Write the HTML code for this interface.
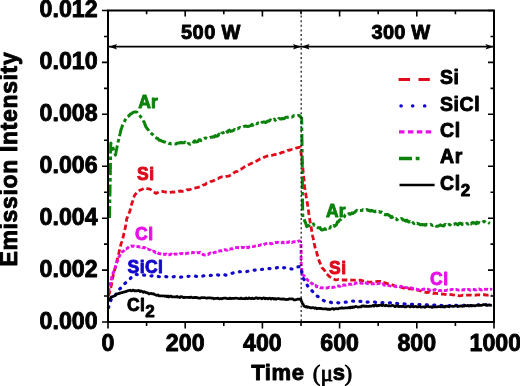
<!DOCTYPE html>
<html><head><meta charset="utf-8"><style>
html,body{margin:0;padding:0;background:#fff;}
svg{display:block;}
</style></head><body>
<svg width="520" height="386" viewBox="0 0 520 386">
<rect width="520" height="386" fill="#fff"/>
<path d="M108.5,296.0 L109.1,293.8 L109.8,291.5 L110.4,289.2 L111.0,286.8 L111.4,285.0 L111.8,282.9 L112.2,281.1 L112.5,279.1 L112.9,276.7 L113.3,274.6 L113.8,273.3 L114.4,270.8 L114.9,268.8 L115.5,267.4 L116.0,265.0 L116.5,263.0 L117.0,260.5 L117.5,258.4 L118.0,255.7 L118.5,254.1 L119.0,252.3 L119.5,250.0 L120.0,248.2 L120.5,246.1 L121.2,243.3 L122.0,241.5 L122.7,239.1 L123.2,236.6 L123.8,234.1 L124.3,232.5 L124.8,230.0 L125.2,228.0 L125.6,225.9 L125.9,223.6 L126.3,221.5 L126.7,218.9 L127.5,217.1 L128.3,214.7 L129.2,212.9 L130.0,210.7 L130.6,207.7 L131.3,205.4 L131.9,203.1 L132.6,201.7 L133.2,199.3 L133.8,197.6 L134.5,195.3 L135.8,193.8 L137.0,191.9 L139.7,190.3 L142.3,189.2 L144.9,187.9 L147.4,188.7 L150.0,189.1 L152.0,190.7 L153.9,192.0 L155.9,193.4 L157.8,192.5 L159.8,191.4 L161.7,191.3 L163.7,191.7 L165.8,192.0 L167.8,192.1 L169.8,192.6 L172.0,192.0 L174.1,192.2 L176.2,191.8 L178.4,191.4 L180.5,191.0 L182.7,191.4 L184.9,191.0 L187.0,189.7 L189.2,189.8 L191.4,189.0 L193.5,188.2 L195.7,187.8 L198.0,187.4 L200.3,186.6 L202.7,185.1 L205.0,184.7 L206.8,183.2 L208.5,182.8 L210.4,181.6 L212.3,181.2 L214.2,180.4 L216.2,179.2 L218.1,178.7 L220.0,177.3 L222.1,176.9 L224.2,177.0 L226.4,176.3 L228.5,176.2 L230.3,175.3 L232.1,174.3 L233.8,172.9 L235.6,171.7 L237.4,171.3 L239.1,169.8 L240.9,169.2 L242.7,168.1 L244.5,166.8 L246.3,165.9 L248.1,165.0 L249.8,164.2 L251.6,163.3 L253.4,162.3 L255.2,161.4 L257.0,160.8 L258.9,159.6 L260.8,158.7 L262.7,158.2 L264.6,157.0 L266.5,156.2 L268.4,156.0 L270.5,155.4 L272.7,155.2 L274.9,154.5 L277.0,154.6 L279.1,153.9 L281.2,152.6 L283.4,152.2 L285.5,151.4 L287.8,150.3 L290.1,150.0 L292.3,149.2 L294.6,148.7 L296.9,147.8 L300.3,147.2 L300.5,149.2 L300.8,150.6 L301.0,152.6 L301.3,155.1 L301.5,157.4 L301.8,158.8 L302.0,161.0 L302.3,163.1 L302.5,164.9 L302.7,167.0 L302.9,169.1 L303.1,171.2 L303.3,173.5 L303.5,175.4 L303.8,177.6 L304.0,180.0 L304.2,181.6 L304.4,184.1 L304.6,186.4 L304.8,188.1 L305.1,190.2 L305.5,192.7 L305.8,194.3 L306.2,196.4 L306.5,198.6 L306.9,200.9 L307.2,202.5 L307.6,204.8 L307.9,206.9 L308.2,209.5 L308.6,211.4 L308.9,214.0 L309.2,215.6 L309.5,218.0 L309.9,220.5 L310.2,222.9 L310.6,224.6 L311.0,226.5 L311.4,228.5 L311.7,230.9 L312.1,232.7 L312.5,235.2 L312.9,237.3 L313.3,238.7 L313.8,240.8 L314.2,243.2 L314.6,245.1 L315.0,247.2 L315.6,248.9 L316.2,250.8 L316.8,252.9 L317.4,255.3 L318.0,257.0 L318.6,259.0 L319.2,261.1 L320.1,263.2 L321.1,265.3 L322.0,267.7 L323.3,268.9 L324.7,270.6 L326.0,273.2 L327.5,274.6 L329.1,276.3 L330.6,277.3 L333.3,278.9 L336.0,280.0 L338.2,279.5 L340.5,279.9 L342.8,280.0 L345.0,279.8 L347.5,280.0 L350.0,280.0 L352.1,280.1 L354.2,280.1 L356.3,280.0 L358.4,280.4 L360.5,280.2 L362.9,281.0 L365.2,280.8 L367.6,281.9 L370.0,282.2 L372.0,282.1 L374.0,281.9 L376.0,281.7 L378.0,281.3 L380.0,281.3 L382.0,282.4 L384.0,282.5 L386.0,283.1 L388.0,283.9 L390.0,284.3 L392.1,284.8 L394.3,285.8 L396.4,286.1 L398.6,286.4 L400.7,286.9 L402.9,287.9 L405.0,288.2 L407.1,288.8 L409.3,288.7 L411.4,288.9 L413.6,289.5 L415.7,290.1 L417.9,289.9 L420.0,290.7 L422.5,291.6 L425.0,292.2 L427.0,292.6 L429.0,292.2 L431.0,293.0 L433.0,293.5 L435.0,293.1 L437.0,293.5 L439.0,293.6 L441.0,294.0 L443.0,294.1 L445.0,294.3 L447.0,294.7 L449.0,294.3 L451.0,294.6 L453.0,294.9 L455.0,295.1 L457.0,295.1 L459.0,295.8 L461.0,295.7 L463.0,295.1 L465.0,295.4 L467.1,295.2 L469.3,295.1 L471.4,295.1 L473.6,295.3 L475.7,295.2 L477.9,294.9 L480.0,294.8 L482.0,294.9 L484.0,294.7 L486.0,295.0 L488.0,295.2 L490.0,294.9 L492.0,295.0" fill="none" stroke="#e00a1a" stroke-width="2.8" stroke-dasharray="5.5 3" stroke-linejoin="round"/>
<path d="M108.5,292.0 L108.8,290.8 L109.0,289.5 L109.3,288.3 L109.6,287.1 L109.8,285.8 L110.1,284.6 L110.4,283.4 L110.7,282.2 L110.9,280.9 L111.2,279.7 L111.5,278.5 L111.7,277.2 L112.0,275.5 L112.4,274.5 L112.9,273.6 L113.3,272.7 L113.7,271.8 L114.1,270.1 L114.6,269.5 L115.0,268.1 L115.4,266.6 L115.9,265.3 L116.3,264.1 L116.7,263.1 L117.1,261.5 L117.6,260.5 L118.0,259.0 L118.6,257.5 L119.2,256.6 L119.8,255.6 L120.4,253.7 L121.0,252.9 L122.0,251.9 L123.0,251.5 L124.0,250.5 L125.0,248.8 L126.3,248.8 L127.7,248.0 L129.0,246.7 L130.2,246.7 L131.5,245.9 L132.8,246.5 L134.0,246.0 L135.2,246.4 L136.5,246.5 L137.8,246.5 L139.0,246.8 L140.2,247.0 L141.4,246.8 L142.7,247.7 L143.9,247.4 L145.2,248.1 L146.4,249.3 L147.7,249.0 L149.0,249.5 L150.3,250.0 L151.6,251.5 L152.9,251.1 L154.2,251.4 L155.6,252.8 L157.1,252.3 L158.6,253.5 L160.0,253.7 L161.2,254.1 L162.4,254.4 L163.6,254.1 L164.8,254.6 L166.0,253.9 L167.2,254.9 L168.5,254.6 L169.8,254.8 L171.1,254.0 L172.4,254.8 L173.7,255.0 L175.0,253.9 L176.3,254.1 L177.6,254.3 L178.8,254.5 L180.1,253.7 L181.4,253.5 L182.7,253.5 L184.0,253.8 L185.3,253.9 L186.6,253.3 L187.9,253.2 L189.2,253.1 L190.5,253.0 L191.8,252.9 L193.1,252.4 L194.4,252.8 L195.7,253.3 L197.1,252.6 L198.6,252.9 L200.0,252.2 L201.2,253.4 L202.3,254.1 L203.5,254.6 L204.7,255.0 L205.9,254.7 L207.0,254.6 L208.2,254.6 L209.3,253.4 L210.5,253.0 L211.7,253.5 L212.8,253.4 L214.0,252.6 L215.3,252.2 L216.7,252.2 L218.0,251.2 L219.3,251.0 L220.6,250.6 L222.0,250.7 L223.3,250.1 L224.6,249.7 L225.9,250.0 L227.2,250.1 L228.5,249.0 L229.8,249.3 L231.1,248.7 L232.4,248.9 L233.7,248.4 L235.0,247.7 L236.3,247.6 L237.6,247.3 L238.9,247.8 L240.2,247.6 L241.4,247.3 L242.7,247.5 L244.0,247.4 L245.3,247.9 L246.6,247.1 L247.9,247.8 L249.2,247.0 L250.5,246.9 L251.8,246.4 L253.1,246.6 L254.4,246.4 L255.7,245.8 L257.0,245.4 L258.3,245.5 L259.6,245.4 L260.9,244.7 L262.2,244.8 L263.5,244.9 L264.8,244.1 L266.1,243.6 L267.4,243.4 L268.7,243.8 L270.0,243.5 L271.3,243.8 L272.6,243.5 L273.9,242.7 L275.2,242.5 L276.4,242.5 L277.7,242.3 L279.0,242.8 L280.3,242.9 L281.6,242.9 L282.9,242.1 L284.2,242.8 L285.5,242.1 L286.8,242.2 L288.0,242.5 L289.3,241.7 L290.6,241.7 L291.9,242.5 L293.2,241.9 L294.6,241.8 L296.0,241.9 L297.4,241.9 L298.8,240.9 L300.2,241.2 L300.6,242.6 L301.0,244.0 L301.0,244.9 L301.0,246.6 L301.0,248.3 L301.1,248.9 L301.1,250.3 L301.1,251.0 L301.1,252.5 L301.1,254.2 L301.1,254.8 L301.1,257.0 L301.1,258.2 L301.1,258.5 L301.2,260.8 L301.2,261.3 L301.2,263.1 L301.2,264.3 L301.3,265.0 L301.4,266.8 L301.6,268.0 L301.7,269.5 L301.8,270.2 L301.9,272.0 L302.1,273.6 L302.2,274.5 L303.1,275.2 L303.9,275.6 L304.8,276.9 L305.7,277.7 L306.6,279.0 L307.4,279.8 L308.3,280.6 L309.2,280.9 L310.2,282.3 L311.1,283.1 L312.1,283.3 L313.0,285.0 L314.2,285.3 L315.4,285.2 L316.6,286.8 L317.8,286.4 L319.0,287.2 L320.3,287.8 L321.6,287.8 L322.9,287.9 L324.2,288.1 L325.5,288.0 L326.8,288.0 L328.1,287.6 L329.4,287.2 L330.7,287.8 L332.1,287.6 L333.4,287.1 L334.7,287.1 L336.0,286.4 L337.3,286.1 L338.6,286.0 L339.9,286.4 L341.3,285.1 L342.6,285.5 L343.9,284.9 L345.2,285.3 L346.5,284.6 L347.9,284.4 L349.2,284.2 L350.5,284.2 L351.8,284.3 L353.2,283.5 L354.5,283.9 L355.8,282.9 L357.1,283.0 L358.4,282.7 L359.8,282.6 L361.1,283.3 L362.4,283.2 L363.7,282.4 L365.0,282.6 L366.3,283.0 L367.6,283.6 L369.0,283.9 L370.3,284.0 L371.6,283.9 L372.9,283.6 L374.2,283.8 L375.4,283.4 L376.7,283.7 L378.0,283.6 L379.2,283.4 L380.4,283.7 L381.6,284.5 L382.8,283.9 L384.0,285.0 L385.2,285.3 L386.4,285.6 L387.6,285.2 L388.8,285.6 L390.0,285.9 L391.2,286.1 L392.5,286.6 L393.8,286.3 L395.0,286.0 L396.2,286.7 L397.5,286.4 L398.8,286.6 L400.0,286.9 L401.2,286.2 L402.5,287.3 L403.8,287.4 L405.0,287.4 L406.2,287.6 L407.5,287.8 L408.8,287.6 L410.0,288.2 L411.2,287.8 L412.5,288.5 L413.8,288.8 L415.0,288.7 L416.2,289.0 L417.5,289.7 L418.8,289.7 L420.0,289.0 L421.2,289.8 L422.5,289.6 L423.8,289.0 L425.0,289.4 L426.2,289.3 L427.5,289.1 L428.8,289.7 L430.0,290.2 L431.2,289.6 L432.5,290.3 L433.8,290.1 L435.0,289.5 L436.2,290.4 L437.5,290.2 L438.8,290.6 L440.0,290.5 L441.2,290.5 L442.5,290.0 L443.8,290.5 L445.0,290.6 L446.2,290.5 L447.5,290.0 L448.8,290.3 L450.0,290.0 L451.2,289.5 L452.5,289.4 L453.8,289.4 L455.0,289.5 L456.2,289.5 L457.5,289.8 L458.8,290.1 L460.0,289.8 L461.2,289.7 L462.5,290.0 L463.8,289.5 L465.0,289.7 L466.2,290.0 L467.5,289.6 L468.8,289.3 L470.0,290.2 L471.2,290.0 L472.5,289.5 L473.8,289.5 L475.0,289.7 L476.2,289.8 L477.5,289.3 L478.8,289.0 L480.0,289.3 L481.2,290.0 L482.4,289.2 L483.6,289.6 L484.8,289.3 L486.0,289.4 L487.2,289.3 L488.4,289.6 L489.6,289.4 L490.8,289.2 L492.0,289.8" fill="none" stroke="#e810e8" stroke-width="2.9" stroke-dasharray="4 2" stroke-linejoin="round"/>
<path d="M108.5,307.7 L109.1,305.8 L109.8,303.9 L110.4,301.9 L111.0,299.7 L112.6,298.4 L114.2,297.4 L115.6,294.8 L117.0,292.6 L118.5,290.9 L119.9,288.8 L121.7,287.1 L123.5,284.6 L125.2,283.2 L127.0,281.4 L128.7,279.5 L130.3,278.5 L132.0,276.3 L135.0,274.4 L137.3,274.6 L139.6,274.3 L141.7,275.0 L143.9,275.1 L146.0,275.2 L148.4,275.3 L150.7,276.0 L153.1,275.8 L155.3,276.4 L157.6,276.3 L159.8,276.8 L162.0,276.4 L164.3,276.5 L166.5,276.7 L168.7,277.2 L170.9,277.0 L173.1,276.8 L175.3,276.6 L177.5,277.0 L179.7,277.3 L181.9,277.0 L183.9,276.4 L185.9,276.3 L187.9,276.3 L189.9,276.2 L192.0,276.0 L194.0,275.9 L196.0,276.3 L198.0,276.4 L200.0,275.8 L202.3,276.2 L204.7,275.6 L207.0,275.6 L209.4,275.5 L211.7,275.4 L213.7,274.6 L215.8,274.8 L217.8,275.0 L219.8,275.3 L221.9,274.5 L223.9,274.7 L226.0,275.1 L228.0,274.5 L230.3,273.9 L232.7,273.1 L235.0,272.5 L237.3,272.5 L239.6,271.7 L242.0,271.9 L244.3,271.7 L246.6,271.6 L248.9,271.0 L251.3,271.0 L253.6,270.2 L256.0,270.0 L258.3,269.5 L260.6,269.7 L263.0,269.2 L265.3,268.8 L267.7,268.5 L270.0,268.7 L272.3,268.3 L274.6,268.2 L277.0,267.7 L279.3,267.5 L281.6,267.0 L283.9,267.8 L286.2,267.6 L288.6,268.3 L290.9,268.9 L293.2,269.1 L295.5,267.7 L297.9,266.9 L300.2,266.5 L300.5,266.7 L301.0,269.1 L301.5,271.2 L301.9,273.0 L302.4,275.6 L302.9,277.6 L304.0,279.4 L305.2,281.5 L306.4,283.4 L307.5,285.7 L309.0,287.9 L310.6,288.9 L312.1,291.0 L313.7,292.3 L315.2,294.0 L317.1,296.0 L319.0,297.2 L321.0,298.6 L322.9,300.2 L325.0,301.2 L327.1,301.7 L329.3,301.8 L331.4,302.6 L333.7,303.2 L336.0,302.6 L338.3,302.8 L340.6,302.7 L342.6,302.7 L344.6,302.2 L346.6,302.1 L348.6,301.5 L350.6,301.0 L352.6,301.0 L354.6,301.1 L356.6,301.8 L358.6,301.3 L360.6,301.3 L363.0,302.1 L365.3,301.6 L367.6,302.2 L370.0,301.6 L372.0,302.0 L374.0,301.9 L376.0,302.4 L378.0,302.4 L380.0,302.5 L382.0,302.6 L384.0,302.8 L386.0,302.5 L388.0,302.8 L390.0,302.8 L392.0,302.6 L394.0,303.4 L396.0,303.3 L398.0,303.7 L400.0,303.3 L402.0,303.7 L404.0,303.8 L406.0,304.2 L408.0,303.8 L410.0,304.2 L412.0,304.4 L414.0,304.1 L416.0,304.6 L418.0,304.8 L420.0,304.6 L422.0,304.9 L424.0,304.9 L426.0,304.7 L428.0,304.9 L430.0,305.5 L432.0,305.0 L434.0,305.1 L436.0,304.9 L438.0,305.0 L440.0,305.0 L442.0,305.7 L444.0,305.6 L446.0,305.7 L448.0,305.8 L450.0,305.6 L452.0,305.8 L454.0,305.5 L456.0,305.4 L458.0,305.8 L460.0,305.7 L462.0,305.7 L464.0,305.3 L466.0,305.6 L468.0,305.2 L470.0,305.7 L472.0,305.6 L474.0,305.0 L476.0,305.5 L478.0,304.8 L480.0,304.7 L482.0,305.1 L484.0,304.7 L486.0,304.8 L488.0,304.8 L490.0,304.3 L492.0,304.6" fill="none" stroke="#1208cc" stroke-width="3.2" stroke-dasharray="1 6.5" stroke-linecap="round" stroke-linejoin="round"/>
<path d="M109.5,218.0 L109.5,217.0 L109.5,216.0 L109.6,215.0 L109.6,214.0 L109.6,213.0 L109.6,212.0 L109.6,211.0 L109.6,210.0 L109.7,209.0 L109.7,208.0 L109.7,207.0 L109.7,206.0 L109.7,205.0 L109.8,204.0 L109.8,203.0 L109.8,202.0 L109.8,201.0 L109.8,200.0 L109.8,199.0 L109.9,198.0 L109.9,197.0 L109.9,196.0 L109.9,195.0 L109.9,194.0 L109.9,193.0 L110.0,192.0 L110.0,191.0 L110.0,190.2 L110.0,188.8 L110.0,188.0 L110.0,186.9 L110.1,186.2 L110.1,185.2 L110.1,183.9 L110.1,182.7 L110.1,181.9 L110.2,180.9 L110.2,179.7 L110.2,178.8 L110.2,178.2 L110.2,177.1 L110.2,176.3 L110.2,175.3 L110.3,174.3 L110.3,172.9 L110.3,171.8 L110.3,170.9 L110.3,170.0 L110.3,169.0 L110.4,168.0 L110.4,166.9 L110.4,166.2 L110.4,164.8 L110.4,164.0 L110.5,163.3 L110.5,162.2 L110.5,160.9 L110.5,159.8 L110.5,159.2 L110.5,157.7 L110.6,156.7 L110.6,156.0 L110.6,155.0 L110.6,153.8 L110.6,152.7 L110.6,151.8 L110.7,151.2 L110.7,150.0 L110.7,149.3 L110.7,148.2 L110.7,147.3 L110.7,145.7 L110.8,144.8 L110.8,143.7 L110.8,143.0 L111.2,143.9 L111.7,144.7 L112.1,146.0 L112.6,146.7 L113.0,147.9 L113.3,148.8 L113.7,150.2 L114.0,150.9 L114.4,151.8 L114.7,152.7 L115.1,154.0 L115.4,155.1 L115.6,154.1 L115.8,153.3 L116.0,152.2 L116.2,150.8 L116.4,149.7 L116.6,149.2 L116.8,148.2 L117.0,147.0 L117.2,146.2 L117.4,145.0 L117.7,143.8 L117.9,142.8 L118.1,141.7 L118.3,141.1 L118.5,140.3 L118.8,139.3 L119.0,138.0 L119.2,137.1 L119.5,136.3 L119.7,135.2 L120.0,134.1 L120.2,132.9 L120.5,132.0 L120.7,130.8 L121.0,129.8 L121.2,129.1 L121.5,128.3 L121.9,127.1 L122.3,126.1 L122.7,125.1 L123.2,124.3 L123.6,123.6 L124.0,122.4 L124.4,121.8 L124.9,120.4 L125.4,119.6 L126.0,118.8 L126.5,117.8 L127.0,117.2 L127.9,116.6 L128.7,116.0 L129.6,115.1 L130.4,114.0 L131.3,113.8 L132.2,113.2 L133.0,112.5 L134.0,112.0 L135.1,112.0 L136.1,111.9 L136.9,112.1 L137.7,113.3 L138.4,113.8 L139.2,114.7 L140.0,115.8 L140.6,116.7 L141.1,117.3 L141.7,117.9 L142.2,119.2 L142.8,119.6 L143.3,120.6 L143.9,121.7 L144.3,122.5 L144.7,123.5 L145.2,125.1 L145.6,126.2 L146.0,126.9 L146.7,127.8 L147.3,128.7 L148.0,129.5 L148.7,130.5 L149.3,131.9 L150.0,132.2 L150.8,133.0 L151.7,133.7 L152.5,134.4 L153.3,135.4 L154.2,136.3 L155.0,137.0 L155.8,137.5 L156.7,138.3 L157.5,138.3 L158.3,139.1 L159.2,140.2 L160.0,140.2 L161.0,140.7 L162.0,141.2 L163.0,141.4 L164.0,142.0 L165.0,142.0 L166.0,142.4 L167.0,143.1 L168.0,142.8 L169.0,143.5 L170.0,143.3 L171.0,144.0 L172.0,143.9 L173.0,144.0 L174.0,143.8 L175.0,143.9 L176.0,144.0 L177.0,143.3 L178.0,143.0 L179.0,143.1 L180.0,142.8 L181.0,142.2 L182.0,142.9 L183.0,142.7 L184.0,142.7 L185.0,142.1 L186.0,143.0 L187.0,144.5 L188.0,143.6 L189.0,143.7 L190.0,144.2 L191.0,143.5 L192.0,143.2 L193.0,143.6 L194.0,141.4 L195.0,140.9 L196.0,142.0 L197.0,141.8 L198.0,141.5 L199.0,139.8 L200.0,139.7 L201.0,140.6 L202.0,139.5 L203.0,139.6 L204.1,138.7 L205.1,137.9 L206.1,138.2 L207.1,138.7 L208.1,138.5 L209.1,137.9 L210.1,137.4 L211.2,137.3 L212.2,136.9 L213.2,136.8 L214.2,137.1 L215.2,135.6 L216.1,136.0 L217.1,136.2 L218.0,135.7 L219.0,134.2 L219.9,135.3 L220.9,134.7 L221.8,133.1 L222.8,133.0 L223.7,132.5 L224.7,131.9 L225.6,133.2 L226.6,131.8 L227.5,132.3 L228.5,130.6 L229.5,130.1 L230.5,131.4 L231.5,130.9 L232.6,131.0 L233.6,130.1 L234.6,129.5 L235.6,129.7 L236.6,128.2 L237.6,128.7 L238.6,128.2 L239.7,127.4 L240.7,127.9 L241.7,127.1 L242.7,127.1 L243.7,126.6 L244.7,126.2 L245.8,126.1 L246.8,126.2 L247.8,126.6 L248.8,126.3 L249.8,125.9 L250.9,125.6 L251.9,124.3 L252.9,125.3 L253.9,123.8 L255.0,123.3 L256.0,123.7 L257.0,123.8 L258.0,122.9 L259.0,123.2 L260.0,122.4 L261.1,123.4 L262.1,122.3 L263.1,122.1 L264.1,122.0 L265.1,122.4 L266.1,122.4 L267.1,121.4 L268.2,121.0 L269.2,121.1 L270.2,119.9 L271.2,120.4 L272.2,120.9 L273.2,120.6 L274.3,119.1 L275.3,120.3 L276.3,119.3 L277.3,120.2 L278.4,118.9 L279.4,118.4 L280.4,118.8 L281.4,119.2 L282.4,118.2 L283.5,118.8 L284.5,118.3 L285.5,117.5 L286.5,117.2 L287.6,117.3 L288.6,117.0 L289.6,116.7 L290.7,117.1 L291.7,117.3 L292.8,116.6 L293.8,115.6 L294.8,115.6 L295.9,115.6 L296.9,115.9 L298.3,115.5 L299.7,115.7 L300.7,117.2 L301.7,117.9 L301.7,118.8 L301.7,120.0 L301.7,121.2 L301.7,122.0 L301.8,123.1 L301.8,124.1 L301.8,125.1 L301.8,126.2 L301.8,127.0 L301.8,128.1 L301.8,128.8 L301.8,130.2 L301.9,131.0 L301.9,132.0 L301.9,133.2 L301.9,133.9 L301.9,134.9 L301.9,136.1 L301.9,137.0 L301.9,137.8 L301.9,138.8 L302.0,139.9 L302.0,140.8 L302.0,142.1 L302.0,142.9 L302.0,143.9 L302.0,145.0 L302.0,146.0 L302.0,147.0 L302.1,148.1 L302.1,149.1 L302.1,150.0 L302.1,150.8 L302.1,152.2 L302.1,153.1 L302.1,153.8 L302.1,155.0 L302.2,156.1 L302.2,157.2 L302.2,157.8 L302.2,158.8 L302.2,160.0 L302.2,161.0 L302.2,162.2 L302.2,163.1 L302.2,163.9 L302.2,165.0 L302.2,166.0 L302.3,167.2 L302.3,167.9 L302.3,169.0 L302.3,169.8 L302.3,171.1 L302.3,171.8 L302.3,173.2 L302.3,174.0 L302.3,175.0 L302.3,175.8 L302.3,176.9 L302.3,178.0 L302.3,179.1 L302.4,180.0 L302.4,180.9 L302.4,182.2 L302.4,183.1 L302.4,184.0 L302.4,184.9 L302.4,185.9 L302.4,187.2 L302.4,187.9 L302.4,189.0 L302.4,190.0 L302.4,190.9 L302.4,192.1 L302.4,193.2 L302.5,194.1 L302.5,195.1 L302.5,195.9 L302.5,196.8 L302.5,198.0 L302.5,198.9 L302.5,199.9 L302.5,201.1 L302.5,201.9 L302.6,203.1 L302.6,204.2 L302.6,204.8 L302.6,206.2 L302.6,207.0 L302.6,207.9 L302.6,208.9 L302.7,209.8 L302.7,211.0 L302.7,212.0 L302.7,213.1 L302.7,214.1 L302.8,214.8 L302.8,216.0 L302.8,217.0 L302.8,217.9 L304.0,218.6 L304.4,219.6 L304.8,221.5 L305.2,221.9 L305.5,222.6 L305.9,223.9 L306.3,225.3 L306.7,226.6 L307.8,225.5 L308.9,225.9 L310.0,224.5 L311.2,225.1 L312.3,224.9 L313.5,223.9 L314.4,225.6 L315.3,225.5 L316.2,226.4 L317.1,227.1 L318.0,227.7 L319.0,227.9 L320.0,227.6 L321.0,229.4 L322.0,230.0 L323.0,229.8 L324.0,229.6 L324.9,228.6 L325.9,229.4 L326.9,228.6 L327.8,227.4 L328.8,228.1 L329.8,228.1 L330.7,226.7 L331.7,227.5 L332.7,226.3 L333.7,225.5 L334.6,226.2 L335.6,225.2 L336.2,225.0 L336.8,223.9 L337.3,222.1 L337.9,222.0 L338.5,221.6 L339.3,220.3 L340.2,219.7 L341.0,219.6 L341.9,218.1 L342.7,217.5 L343.5,216.9 L344.4,216.7 L345.2,214.9 L346.2,214.3 L347.1,215.1 L348.1,214.4 L349.0,213.5 L350.0,214.2 L351.0,213.9 L351.9,212.9 L352.9,213.4 L353.9,212.8 L354.8,212.3 L355.8,211.1 L356.7,210.3 L357.7,211.1 L358.7,211.1 L359.8,210.3 L360.8,210.4 L361.9,210.5 L362.9,209.8 L364.0,210.5 L365.0,210.1 L366.0,209.9 L367.1,209.5 L368.1,210.5 L369.1,210.2 L370.1,211.1 L371.1,210.3 L372.1,210.9 L373.0,210.8 L374.0,211.3 L375.0,211.8 L376.0,211.1 L377.0,211.1 L378.0,212.0 L379.0,211.6 L380.0,212.2 L381.0,212.0 L382.0,212.2 L383.0,213.4 L384.0,214.5 L385.0,214.8 L386.0,214.5 L387.0,214.7 L388.0,214.5 L389.0,215.3 L390.0,215.8 L391.0,217.5 L392.0,216.6 L393.0,218.6 L394.0,218.4 L395.0,218.9 L396.0,218.6 L397.0,219.9 L398.0,218.5 L399.0,219.2 L400.0,219.1 L401.0,218.6 L402.0,218.7 L403.0,220.1 L404.0,220.1 L405.0,220.5 L406.0,221.2 L407.0,220.2 L408.0,221.7 L409.0,222.1 L410.0,221.6 L411.0,222.3 L412.0,223.7 L413.0,222.7 L414.0,223.6 L415.0,222.7 L416.0,223.8 L417.0,223.2 L418.0,223.8 L419.0,223.7 L420.0,224.8 L421.0,224.7 L422.0,224.4 L423.0,224.9 L424.0,224.6 L425.0,225.3 L426.1,224.4 L427.1,225.0 L428.2,225.1 L429.2,224.9 L430.3,224.3 L431.3,224.6 L432.3,225.5 L433.3,224.8 L434.3,225.9 L435.4,225.5 L436.4,226.3 L437.4,226.2 L438.4,226.0 L439.4,225.5 L440.5,224.8 L441.5,225.6 L442.6,225.8 L443.6,226.0 L444.7,224.6 L445.8,224.4 L446.8,225.7 L447.9,225.2 L448.9,224.6 L450.0,224.9 L451.0,223.8 L452.0,224.5 L453.0,224.7 L454.0,224.5 L455.0,223.7 L456.0,223.6 L457.0,224.4 L458.0,224.9 L459.0,223.5 L460.0,223.2 L461.0,223.3 L462.0,224.5 L463.0,223.8 L464.0,223.8 L465.0,224.7 L466.0,224.0 L467.0,223.3 L468.0,224.1 L469.0,222.8 L470.0,223.2 L471.0,223.9 L472.0,222.8 L473.0,222.5 L474.0,223.2 L475.0,222.8 L476.0,223.8 L477.0,222.2 L478.0,223.3 L479.0,222.5 L480.0,223.1 L481.0,222.4 L482.0,222.6 L483.0,221.9 L484.0,221.5 L485.0,221.8 L486.0,222.7 L487.0,222.2 L488.0,222.3 L489.0,222.9 L490.0,223.4" fill="none" stroke="#0b820b" stroke-width="3" stroke-dasharray="12 3 3.5 3" stroke-linejoin="round"/>
<path d="M108.0,301.0 L108.8,300.1 L109.5,299.2 L110.3,298.3 L111.1,297.0 L112.0,296.7 L112.9,296.6 L113.9,296.1 L114.8,295.7 L115.7,294.9 L116.7,294.2 L117.6,293.8 L118.5,293.7 L119.5,293.2 L120.5,293.2 L121.5,292.5 L122.4,292.7 L123.4,292.1 L124.6,291.9 L125.7,291.7 L126.8,291.1 L128.0,290.7 L129.1,290.5 L130.2,290.2 L131.2,290.9 L132.3,290.6 L133.4,290.1 L134.5,291.0 L135.6,290.7 L136.6,290.8 L137.7,290.7 L138.8,290.4 L139.9,291.6 L141.0,290.9 L142.0,291.4 L143.1,292.3 L144.2,291.6 L145.5,292.4 L146.7,292.8 L148.0,292.9 L149.1,293.9 L150.2,293.5 L151.3,293.3 L152.5,294.0 L153.6,293.7 L154.7,294.6 L155.8,295.0 L156.9,295.4 L157.9,294.8 L158.9,295.8 L160.0,295.8 L161.0,296.0 L162.0,295.9 L163.0,296.0 L164.0,295.8 L165.0,296.4 L166.0,295.9 L167.0,296.9 L168.0,295.9 L169.0,297.0 L170.0,296.2 L171.0,296.1 L172.0,296.9 L173.0,296.7 L174.0,297.0 L175.0,296.8 L176.0,297.0 L177.0,296.4 L178.0,297.1 L179.0,297.0 L180.0,297.5 L181.0,296.5 L182.0,296.7 L183.0,297.4 L184.0,297.7 L185.0,297.2 L186.0,297.5 L187.0,297.4 L188.0,297.3 L189.0,297.4 L190.0,297.6 L191.0,297.0 L192.0,297.4 L193.0,297.9 L194.0,297.4 L195.0,297.6 L196.0,297.4 L197.0,297.6 L198.0,297.9 L199.0,298.1 L200.0,298.3 L201.0,297.8 L202.0,297.6 L203.0,297.8 L204.0,297.5 L205.0,297.7 L206.0,298.1 L207.0,298.2 L208.0,297.8 L209.0,297.8 L210.0,297.8 L211.0,297.9 L212.0,298.3 L213.0,298.1 L214.0,298.8 L215.0,298.5 L216.0,298.3 L217.0,298.4 L218.0,298.0 L219.0,298.8 L220.0,298.9 L221.0,298.4 L222.0,298.8 L223.0,298.3 L224.0,298.2 L225.0,298.2 L226.0,298.2 L227.0,298.6 L228.0,298.6 L229.0,298.7 L230.0,298.0 L231.0,298.7 L232.0,298.4 L233.0,298.3 L234.0,298.4 L235.0,298.3 L236.0,298.0 L237.0,298.2 L238.0,298.5 L239.0,298.6 L240.0,298.8 L241.0,298.0 L242.0,298.7 L243.0,298.6 L244.0,298.5 L245.0,298.8 L246.0,297.9 L247.0,298.6 L248.0,298.7 L249.0,297.8 L250.0,298.4 L251.0,298.7 L252.0,298.0 L253.0,298.6 L254.0,298.7 L255.0,298.2 L256.0,297.8 L257.0,297.9 L258.0,298.6 L259.0,298.1 L260.0,298.0 L261.0,298.2 L262.0,298.8 L263.0,298.0 L264.0,297.8 L265.0,298.9 L266.0,298.2 L267.0,298.4 L268.0,299.0 L269.0,298.3 L270.0,298.1 L271.0,299.1 L272.0,298.4 L273.0,298.4 L274.0,299.2 L275.0,298.5 L276.0,299.3 L277.0,298.7 L278.0,298.7 L279.0,298.6 L280.0,299.0 L281.1,299.1 L282.1,298.9 L283.2,299.1 L284.2,298.9 L285.3,299.5 L286.3,299.6 L287.4,299.4 L288.4,299.5 L289.5,298.7 L290.5,299.0 L291.6,298.9 L292.6,298.9 L293.7,299.8 L294.7,299.8 L295.8,299.8 L296.8,299.4 L297.9,299.0 L299.4,299.3 L300.8,298.8 L301.2,300.8 L301.6,301.2 L302.0,302.3 L302.6,304.0 L303.2,304.2 L303.9,306.0 L304.5,306.3 L305.5,306.9 L306.5,306.4 L307.5,307.5 L308.4,307.1 L309.4,307.3 L310.4,307.8 L311.4,307.9 L312.5,307.7 L313.5,307.6 L314.6,308.3 L315.7,307.8 L316.8,308.8 L317.9,308.4 L318.9,308.3 L320.0,308.6 L321.0,308.4 L322.0,308.7 L323.0,309.0 L324.0,308.9 L325.0,308.8 L326.0,308.8 L327.0,309.1 L328.0,309.4 L329.0,309.1 L330.0,309.5 L331.0,309.1 L332.0,308.6 L333.0,308.6 L334.0,309.3 L335.0,308.8 L336.0,308.6 L337.0,308.7 L338.0,308.9 L339.0,308.3 L340.0,308.2 L341.0,308.2 L342.0,307.7 L343.0,308.2 L344.0,308.1 L345.0,308.0 L346.0,307.8 L347.0,307.8 L348.0,307.9 L349.0,307.3 L350.0,308.0 L351.0,307.0 L352.0,307.7 L353.0,306.8 L354.0,307.4 L355.0,306.7 L356.0,306.4 L357.0,306.8 L358.0,307.1 L359.0,307.0 L360.0,306.9 L361.0,307.0 L362.0,305.9 L363.0,306.2 L364.0,305.8 L365.0,306.5 L366.0,306.1 L367.0,306.4 L368.0,306.4 L369.0,306.5 L370.0,306.1 L371.0,306.3 L372.0,305.9 L373.0,305.3 L374.0,306.2 L375.0,305.2 L376.0,305.2 L377.0,306.0 L378.0,305.3 L379.0,305.7 L380.0,305.0 L381.0,305.1 L382.0,305.7 L383.0,304.9 L384.0,305.4 L385.0,305.8 L386.0,305.1 L387.0,305.7 L388.0,305.8 L389.0,305.7 L390.0,306.0 L391.0,306.0 L392.0,305.3 L393.0,305.5 L394.0,306.0 L395.0,306.6 L396.0,305.8 L397.0,306.3 L398.0,305.8 L399.0,306.7 L400.0,306.3 L401.0,306.4 L402.0,306.6 L403.0,306.1 L404.0,306.7 L405.0,306.8 L406.0,306.9 L407.0,306.3 L408.0,306.2 L409.0,306.2 L410.0,307.0 L411.0,306.5 L412.0,306.5 L413.0,306.6 L414.0,306.9 L415.0,306.4 L416.0,306.5 L417.0,307.0 L418.0,307.0 L419.0,306.5 L420.0,306.3 L421.0,307.2 L422.0,307.0 L423.0,306.9 L424.0,306.7 L425.0,307.3 L426.0,306.8 L427.0,306.5 L428.0,306.4 L429.0,306.7 L430.0,307.0 L431.0,306.7 L432.0,307.4 L433.0,307.0 L434.0,306.8 L435.0,307.0 L436.0,306.9 L437.0,306.9 L438.0,306.7 L439.0,306.7 L440.0,306.7 L441.0,307.0 L442.0,306.3 L443.0,307.0 L444.0,306.4 L445.0,307.0 L446.0,306.1 L447.0,306.5 L448.0,306.5 L449.0,306.8 L450.0,306.2 L451.0,306.2 L452.0,306.0 L453.0,306.4 L454.0,306.4 L455.0,305.8 L456.0,305.9 L457.0,305.9 L458.0,306.7 L459.0,306.1 L460.0,306.2 L461.0,305.8 L462.0,306.2 L463.0,306.3 L464.0,306.1 L465.0,305.4 L466.0,305.8 L467.0,305.8 L468.0,305.3 L469.0,306.1 L470.0,305.5 L471.0,305.4 L472.0,305.8 L473.0,305.7 L474.0,305.6 L475.0,305.9 L476.0,305.5 L477.0,305.3 L478.0,305.0 L479.0,305.5 L480.0,305.2 L481.0,305.4 L482.0,305.2 L483.0,304.7 L484.0,304.7 L485.0,304.8 L486.0,304.7 L487.0,305.5 L488.0,305.2 L489.0,304.8 L490.0,305.3 L491.0,305.2 L492.0,305.0" fill="none" stroke="#000" stroke-width="2.7" stroke-linejoin="round"/>
<rect x="108" y="10.5" width="386" height="311.5" fill="none" stroke="#000" stroke-width="2"/>
<path d="M102,322.0H108 M494,322.0H488 M102,270.1H108 M494,270.1H488 M102,218.2H108 M494,218.2H488 M102,166.2H108 M494,166.2H488 M102,114.3H108 M494,114.3H488 M102,62.4H108 M494,62.4H488 M102,10.5H108 M494,10.5H488 M104,296.0H108 M494,296.0H490.5 M104,244.1H108 M494,244.1H490.5 M104,192.2H108 M494,192.2H490.5 M104,140.3H108 M494,140.3H490.5 M104,88.4H108 M494,88.4H490.5 M104,36.5H108 M494,36.5H490.5 M108.0,322V328.5 M108.0,10.5V16.5 M185.2,322V328.5 M185.2,10.5V16.5 M262.4,322V328.5 M262.4,10.5V16.5 M339.6,322V328.5 M339.6,10.5V16.5 M416.8,322V328.5 M416.8,10.5V16.5 M494.0,322V328.5 M494.0,10.5V16.5 M146.6,322V326 M146.6,10.5V14.2 M223.8,322V326 M223.8,10.5V14.2 M301.0,322V326 M301.0,10.5V14.2 M378.2,322V326 M378.2,10.5V14.2 M455.4,322V326 M455.4,10.5V14.2" stroke="#000" stroke-width="1.6" fill="none"/>
<path d="M301.2,11V322" stroke="#222" stroke-width="1.3" stroke-dasharray="2 2.6"/>
<path d="M109,46.7H493.5" stroke="#000" stroke-width="1.8"/>
<path d="M109,46.7 L117,43.9 L115.5,46.7 L117,49.5Z M301.2,46.7 L293,43.9 L294.5,46.7 L293,49.5Z M301.2,46.7 L309.5,43.9 L308,46.7 L309.5,49.5Z M493.5,46.7 L485.5,43.9 L487,46.7 L485.5,49.5Z" fill="#000"/>
<text x="211.0" y="39.2" font-family="Liberation Sans, Arial, sans-serif" font-weight="bold" font-size="20" fill="#000" stroke="#000" stroke-width="0.90" stroke-linejoin="round" text-anchor="middle" letter-spacing="0.4">500 W</text>
<text x="401.0" y="39.2" font-family="Liberation Sans, Arial, sans-serif" font-weight="bold" font-size="20" fill="#000" stroke="#000" stroke-width="0.90" stroke-linejoin="round" text-anchor="middle" letter-spacing="0.2">300 W</text>
<text x="97.6" y="328.9" font-family="Liberation Sans, Arial, sans-serif" font-weight="bold" font-size="23.2" fill="#000" stroke="#000" stroke-width="0.90" stroke-linejoin="round" text-anchor="end">0.000</text>
<text x="97.6" y="277.0" font-family="Liberation Sans, Arial, sans-serif" font-weight="bold" font-size="23.2" fill="#000" stroke="#000" stroke-width="0.90" stroke-linejoin="round" text-anchor="end">0.002</text>
<text x="97.6" y="225.1" font-family="Liberation Sans, Arial, sans-serif" font-weight="bold" font-size="23.2" fill="#000" stroke="#000" stroke-width="0.90" stroke-linejoin="round" text-anchor="end">0.004</text>
<text x="97.6" y="173.2" font-family="Liberation Sans, Arial, sans-serif" font-weight="bold" font-size="23.2" fill="#000" stroke="#000" stroke-width="0.90" stroke-linejoin="round" text-anchor="end">0.006</text>
<text x="97.6" y="121.2" font-family="Liberation Sans, Arial, sans-serif" font-weight="bold" font-size="23.2" fill="#000" stroke="#000" stroke-width="0.90" stroke-linejoin="round" text-anchor="end">0.008</text>
<text x="97.6" y="69.3" font-family="Liberation Sans, Arial, sans-serif" font-weight="bold" font-size="23.2" fill="#000" stroke="#000" stroke-width="0.90" stroke-linejoin="round" text-anchor="end">0.010</text>
<text x="97.6" y="17.4" font-family="Liberation Sans, Arial, sans-serif" font-weight="bold" font-size="23.2" fill="#000" stroke="#000" stroke-width="0.90" stroke-linejoin="round" text-anchor="end">0.012</text>
<text x="108.0" y="350.6" font-family="Liberation Sans, Arial, sans-serif" font-weight="bold" font-size="23.2" fill="#000" stroke="#000" stroke-width="0.90" stroke-linejoin="round" text-anchor="middle">0</text>
<text x="185.2" y="350.6" font-family="Liberation Sans, Arial, sans-serif" font-weight="bold" font-size="23.2" fill="#000" stroke="#000" stroke-width="0.90" stroke-linejoin="round" text-anchor="middle">200</text>
<text x="262.4" y="350.6" font-family="Liberation Sans, Arial, sans-serif" font-weight="bold" font-size="23.2" fill="#000" stroke="#000" stroke-width="0.90" stroke-linejoin="round" text-anchor="middle">400</text>
<text x="339.6" y="350.6" font-family="Liberation Sans, Arial, sans-serif" font-weight="bold" font-size="23.2" fill="#000" stroke="#000" stroke-width="0.90" stroke-linejoin="round" text-anchor="middle">600</text>
<text x="416.8" y="350.6" font-family="Liberation Sans, Arial, sans-serif" font-weight="bold" font-size="23.2" fill="#000" stroke="#000" stroke-width="0.90" stroke-linejoin="round" text-anchor="middle">800</text>
<text x="495.3" y="350.6" font-family="Liberation Sans, Arial, sans-serif" font-weight="bold" font-size="23.2" fill="#000" stroke="#000" stroke-width="0.90" stroke-linejoin="round" text-anchor="middle">1000</text>
<text x="251.2" y="380.2" font-family="Liberation Sans, Arial, sans-serif" font-weight="bold" font-size="22" fill="#000" stroke="#000" stroke-width="0.90" stroke-linejoin="round" letter-spacing="0.6">Time</text>
<text x="312.8" y="381" font-family="Liberation Serif, serif" font-size="23" fill="#000" stroke="#000" stroke-width="0.8" stroke-linejoin="round">(<tspan x="320.4" font-size="23.5">μ</tspan><tspan x="344.6" >)</tspan></text>
<text x="332.8" y="380.2" font-family="Liberation Sans, Arial, sans-serif" font-weight="bold" font-size="22" fill="#000" stroke="#000" stroke-width="0.90" stroke-linejoin="round">s</text>
<g transform="translate(17.2,159.1) rotate(-90)">
<text x="0.0" y="0.0" font-family="Liberation Sans, Arial, sans-serif" font-weight="bold" font-size="23" fill="#000" stroke="#000" stroke-width="0.90" stroke-linejoin="round" text-anchor="middle" letter-spacing="0.65">Emission Intensity</text>
</g>
<path d="M398.6,79.4H410 M418.5,79.4H429.8" stroke="#e00a1a" stroke-width="3"/>
<path d="M400.9,105.9h0.4 M412.5,105.9h0.4 M424.5,105.9h0.4" stroke="#1208cc" stroke-width="3.2" stroke-linecap="round"/>
<path d="M399,131.8H431.5" stroke="#e810e8" stroke-width="3.2" stroke-dasharray="5.5 3.4"/>
<path d="M399,158.5H412 M415.7,158.5H419.5" stroke="#0b820b" stroke-width="3.3"/>
<path d="M399.5,185H434.6" stroke="#000" stroke-width="2.4"/>
<text x="440.0" y="84.2" font-family="Liberation Sans, Arial, sans-serif" font-weight="bold" font-size="19.5" fill="#000" stroke="#000" stroke-width="0.90" stroke-linejoin="round" letter-spacing="0.6">Si</text>
<text x="440.0" y="110.7" font-family="Liberation Sans, Arial, sans-serif" font-weight="bold" font-size="19.5" fill="#000" stroke="#000" stroke-width="0.90" stroke-linejoin="round" letter-spacing="0.6">SiCl</text>
<text x="440.0" y="136.6" font-family="Liberation Sans, Arial, sans-serif" font-weight="bold" font-size="19.5" fill="#000" stroke="#000" stroke-width="0.90" stroke-linejoin="round" letter-spacing="0.6">Cl</text>
<text x="440.0" y="163.3" font-family="Liberation Sans, Arial, sans-serif" font-weight="bold" font-size="19.5" fill="#000" stroke="#000" stroke-width="0.90" stroke-linejoin="round" letter-spacing="0.6">Ar</text>
<text x="440.0" y="189.8" font-family="Liberation Sans, Arial, sans-serif" font-weight="bold" font-size="19.5" fill="#000" stroke="#000" stroke-width="0.90" stroke-linejoin="round" letter-spacing="0.6">Cl<tspan font-size="17" dy="6">2</tspan></text>
<text x="138.3" y="107.8" font-family="Liberation Sans, Arial, sans-serif" font-weight="bold" font-size="17.5" fill="#0b820b" stroke="#0b820b" stroke-width="0.90" stroke-linejoin="round">Ar</text>
<text x="137.0" y="179.6" font-family="Liberation Sans, Arial, sans-serif" font-weight="bold" font-size="17.5" fill="#e00a1a" stroke="#e00a1a" stroke-width="0.90" stroke-linejoin="round" letter-spacing="0.5">Si</text>
<text x="135.0" y="239.8" font-family="Liberation Sans, Arial, sans-serif" font-weight="bold" font-size="17.5" fill="#e810e8" stroke="#e810e8" stroke-width="0.90" stroke-linejoin="round" letter-spacing="0.5">Cl</text>
<text x="127.6" y="272.6" font-family="Liberation Sans, Arial, sans-serif" font-weight="bold" font-size="17.5" fill="#1208cc" stroke="#1208cc" stroke-width="0.90" stroke-linejoin="round" letter-spacing="0.4">SiCl</text>
<text x="127.0" y="310.8" font-family="Liberation Sans, Arial, sans-serif" font-weight="bold" font-size="17.5" fill="#000" stroke="#000" stroke-width="0.90" stroke-linejoin="round" letter-spacing="0.4">Cl<tspan font-size="17" dy="5.8">2</tspan></text>
<text x="326.0" y="216.8" font-family="Liberation Sans, Arial, sans-serif" font-weight="bold" font-size="17.5" fill="#0b820b" stroke="#0b820b" stroke-width="0.90" stroke-linejoin="round">Ar</text>
<text x="329.0" y="273.8" font-family="Liberation Sans, Arial, sans-serif" font-weight="bold" font-size="17.5" fill="#e00a1a" stroke="#e00a1a" stroke-width="0.90" stroke-linejoin="round" letter-spacing="0.5">Si</text>
<text x="430.0" y="284.6" font-family="Liberation Sans, Arial, sans-serif" font-weight="bold" font-size="17.5" fill="#e810e8" stroke="#e810e8" stroke-width="0.90" stroke-linejoin="round" letter-spacing="0.5">Cl</text>
</svg>
</body></html>
